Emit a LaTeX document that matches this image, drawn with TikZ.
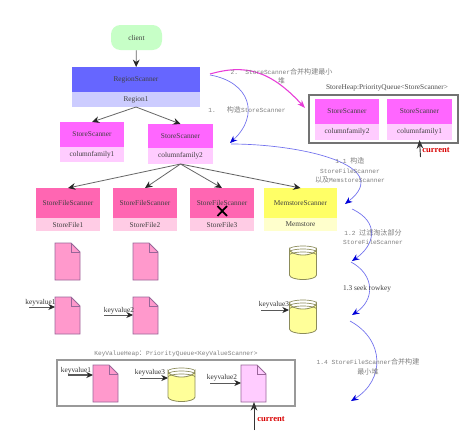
\documentclass[tikz,border=0pt]{standalone}
\usepackage{fontspec}
\setmainfont{Liberation Serif}
\newfontfamily\cjkfam[Scale=1.14]{Noto Sans CJK SC}
\newfontfamily\lmono{Liberation Mono}
\usetikzlibrary{arrows.meta,positioning}
\definecolor{blueA}{HTML}{6666FF}
\definecolor{blueB}{HTML}{CCCCFF}
\definecolor{magA}{HTML}{FF66FF}
\definecolor{magB}{HTML}{FFCCFF}
\definecolor{pinkA}{HTML}{FF66B2}
\definecolor{pinkB}{HTML}{FFCCE5}
\definecolor{yelA}{HTML}{FFFF66}
\definecolor{yelB}{HTML}{FFFFCC}
\definecolor{docpink}{HTML}{FF99CC}
\definecolor{docedge}{HTML}{996699}
\definecolor{cylfill}{HTML}{FFFF99}
\definecolor{cyledge}{HTML}{8C8C5A}
\definecolor{note}{HTML}{808080}
\definecolor{curve}{HTML}{7070EE}
\definecolor{mergec}{HTML}{E83CD8}
\newcommand{\bx}[7]{%
  \pgfmathsetmacro{\bw}{(#4-#2)*0.75}\pgfmathsetmacro{\bh}{(#5-#3)*0.75}%
  \node[compart,fill=#6,minimum width=\bw pt,minimum height=\bh pt] (#1) at ({(#2+#4)/2},{(#3+#5)/2}) {#7};}
\tikzset{
  x=0.75pt,y=-0.75pt,
  compart/.style={inner sep=0pt,outer sep=0pt,font=\fontsize{5.5}{7}\selectfont,text=black!75},
  tree/.style={draw=black!60,line width=0.6pt,-{Stealth[length=5.5pt,width=5pt,color=black!85]}},
  kv/.style={draw=black!65,line width=0.6pt,-{Stealth[length=5pt,width=4.5pt,color=black!85]}},
  kvlabel/.style={inner sep=0pt,font=\fontsize{5.5}{7}\selectfont,text=black!80},
  step note/.style={inner sep=0pt,align=center,text=note,font=\fontsize{4.65}{7.2}\lmono},
  flow/.style={draw=curve,line width=0.5pt,-{Stealth[length=5.5pt,width=4.5pt,color=blue!85!black]}},
  merge/.style={draw=mergec,line width=0.8pt,-{Stealth[length=6pt,width=4.5pt]}},
  heapbox/.style={draw=black!40,line width=0.8pt,fill=white},
  curlabel/.style={inner sep=0pt,font=\fontsize{6.4}{8}\selectfont\bfseries,text=red!85!black},
  curarrow/.style={draw=black!80,line width=0.7pt,-{Stealth[length=6.5pt,width=5pt]}},
  doc/.pic={
    \path[pic actions,draw=docedge,line width=0.6pt] (0,0) -- (16,0) -- (25,9) -- (25,37) -- (0,37) -- cycle;
    \draw[docedge,line width=0.5pt] (16,0) -- (16,9) -- (25,9);
    \coordinate (-west) at (0,18);
    \coordinate (-south) at (12.5,37);
  },
  cyl/.pic={
    \path[fill=cylfill,draw=cyledge,line width=0.6pt] (0,6) arc[start angle=180,end angle=0,x radius=13.5,y radius=6] -- (27,32) arc[start angle=0,end angle=180,x radius=13.5,y radius=4.5] -- cycle;
    \draw[cyledge,line width=0.5pt] (0,6) arc[start angle=180,end angle=360,x radius=13.5,y radius=3];
    \draw[cyledge,line width=0.5pt] (0,9) arc[start angle=180,end angle=360,x radius=13.5,y radius=3];
    \draw[cyledge,line width=0.5pt] (0,12) arc[start angle=180,end angle=360,x radius=13.5,y radius=3];
    \coordinate (-west) at (0,18);
  },
}
\begin{document}
\begin{tikzpicture}
\useasboundingbox (0,0) rectangle (474,447);
\fill[white] (0,0) rectangle (474,447);

% client
\node[fill=green!22,rounded corners=7pt,inner sep=0pt,minimum width=38.25pt,minimum height=18.75pt,font=\fontsize{5.5}{7}\selectfont,text=black!75] (client) at (136.5,37.5) {client};

% tree boxes
\bx{rs}{72}{67}{200}{92}{blueA}{RegionScanner}
\bx{r1}{72}{92}{200}{107}{blueB}{Region1}
\bx{ss1}{60}{122}{124}{147}{magA}{StoreScanner}
\bx{cf1}{60}{147}{124}{162}{magB}{columnfamily1}
\bx{ss2}{148}{124}{213}{148}{magA}{StoreScanner}
\bx{cf2}{148}{148}{213}{164}{magB}{columnfamily2}
\bx{sf1}{36}{188}{100}{218}{pinkA}{StoreFileScanner}
\bx{f1}{36}{218}{100}{231}{pinkB}{StoreFile1}
\bx{sf2}{113}{188}{177}{218}{pinkA}{StoreFileScanner}
\bx{f2}{113}{218}{177}{231}{pinkB}{StoreFile2}
\bx{sf3}{190}{188}{254}{218}{pinkA}{StoreFileScanner}
\bx{f3}{190}{218}{254}{231}{pinkB}{StoreFile3}
\bx{ms}{264}{188}{337}{218}{yelA}{MemstoreScanner}
\bx{m}{264}{218}{337}{231}{yelB}{Memstore}

\draw[black,line width=1.3pt] (217.5,206) -- (227,216) (227,206) -- (217.5,216);

% tree connectors
\draw[tree] (client) -- (rs);
\draw[tree] (r1.south) -- (ss1.north);
\draw[tree] (r1.south) -- (ss2.north);
\draw[tree] (cf2.south) -- (sf1.north);
\draw[tree] (cf2.south) -- (sf2.north);
\draw[tree] (cf2.south) -- (sf3.north);
\draw[tree] (cf2.south) -- (ms.north);

% files
\pic[fill=docpink] (d1) at (55,243) {doc};
\pic[fill=docpink] (d2) at (133,243) {doc};
\pic[fill=docpink] (d3) at (55,297) {doc};
\pic[fill=docpink] (d4) at (133,297) {doc};
\pic (c1) at (289.5,243) {cyl};
\pic (c2) at (289.5,297) {cyl};

\node[kvlabel] (k1) at (40.5,302.5) {keyvalue1};
\coordinate (k1s) at (29,307);
\coordinate (k1e) at (55,307);
\draw[kv] (k1s) -- (k1e);
\node[kvlabel] (k2) at (119,310.5) {keyvalue2};
\coordinate (k2s) at (104,315);
\coordinate (k2e) at (133,315);
\draw[kv] (k2s) -- (k2e);
\node[kvlabel] (k3) at (274,305) {keyvalue3};
\coordinate (k3s) at (261,310);
\coordinate (k3e) at (289,310);
\draw[kv] (k3s) -- (k3e);

% KeyValueHeap
\node[inner sep=0pt,text=note,font=\fontsize{4.65}{7}\lmono] (kvt) at (176,354) {KeyValueHeap{\cjkfam ：}PriorityQueue<KeyValueScanner>};
\draw[heapbox] (57,360) rectangle (295,406);
\pic[fill=docpink] (h1) at (93,365) {doc};
\pic (h2) at (168,365) {cyl};
\pic[fill=magB] (h3) at (241,365) {doc};
\node[kvlabel] (hk1) at (76,370.5) {keyvalue1};
\coordinate (hk1s) at (68,375);
\coordinate (hk1e) at (93,375);
\draw[kv,line width=0.9pt] (hk1s) -- (hk1e);
\node[kvlabel] (hk3) at (150,373) {keyvalue3};
\coordinate (hk3s) at (140,378);
\coordinate (hk3e) at (168,378);
\draw[kv] (hk3s) -- (hk3e);
\node[kvlabel] (hk2) at (222,377.5) {keyvalue2};
\coordinate (hk2s) at (210,383);
\coordinate (hk2e) at (241,383);
\draw[kv] (hk2s) -- (hk2e);
\coordinate (cur1) at (254,430);
\draw[curarrow] (cur1) -- (254,402);
\node[curlabel] (cl1) at (271,419) {current};

% StoreHeap
\node[inner sep=0pt,text=black!70,font=\fontsize{5.5}{7}\selectfont] (sht) at (387,88) {StoreHeap:PriorityQueue<StoreScanner>};
\draw[heapbox,draw=black!55] (309,95) rectangle (458,143);
\bx{hs1}{315}{99}{379}{124}{magA}{StoreScanner}
\bx{hc1}{315}{124}{379}{140}{magB}{columnfamily2}
\bx{hs2}{387}{99}{452}{124}{magA}{StoreScanner}
\bx{hc2}{387}{124}{452}{140}{magB}{columnfamily1}
\coordinate (cur2) at (420.5,157);
\draw[curarrow] (cur2) -- (hc2.south);
\node[curlabel] (cl2) at (436,150) {current};

% flow curves
\coordinate (a0) at (210,74);
\coordinate (a1) at (305,108);
\coordinate (b0) at (210,75);
\coordinate (b1) at (230,143);
\coordinate (c0) at (231,144);
\coordinate (c1e) at (345,204);
\coordinate (e0) at (352,209);
\coordinate (e1) at (352,261);
\coordinate (g0) at (351,262);
\coordinate (g1) at (352,315);
\coordinate (i0) at (350,321);
\coordinate (i1) at (351,401);
\draw[merge] (a0) .. controls (245,64) and (270,70) .. (a1);
\draw[flow] (b0) .. controls (250,82) and (260,115) .. (b1);
\draw[flow] (c0) .. controls (300,144) and (395,165) .. (c1e);
\draw[flow] (e0) .. controls (380,222) and (375,245) .. (e1);
\draw[flow] (g0) .. controls (375,275) and (375,300) .. (g1);
\draw[flow] (i0) .. controls (385,340) and (385,380) .. (i1);

% step labels
\node[step note] (t2) at (281.5,76.5) {2.\ \ StoreScanner{\cjkfam 合并构建最小}\\{\cjkfam 堆}};
\node[step note] (t1) at (247,110) {1.\ \ \ {\cjkfam 构造}StoreScanner};
\node[step note] (t11) at (350,170.5) {1.1 {\cjkfam 构造}\\StoreFileScanner\\{\cjkfam 以及}MemstoreScanner};
\node[step note] (t12) at (373,237) {1.2 {\cjkfam 过滤淘汰部分}\\StoreFileScanner};
\node[inner sep=0pt,font=\fontsize{5.5}{7}\selectfont,text=black!75] (t13) at (367,288.5) {1.3 seek rowkey};
\node[step note] (t14) at (368,367) {1.4 StoreFileScanner{\cjkfam 合并构建}\\{\cjkfam 最小堆}};
\end{tikzpicture}
\end{document}
